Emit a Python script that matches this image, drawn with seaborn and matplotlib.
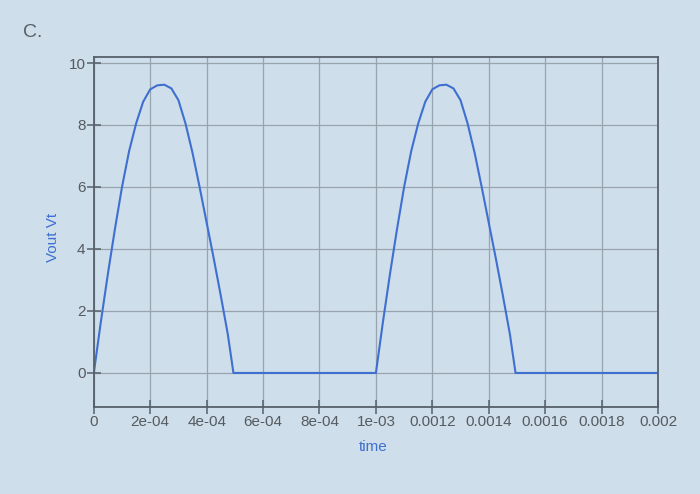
import pandas as pd
import matplotlib
matplotlib.use("Agg")
import matplotlib.pyplot as plt
import seaborn as sns

# half-wave rectified output
time = [0.0, 2.5e-5, 5.0e-5, 7.5e-5, 1.0e-4, 1.25e-4, 1.5e-4, 1.75e-4, 2.0e-4, 2.25e-4,
        2.5e-4, 2.75e-4, 3.0e-4, 3.25e-4, 3.5e-4, 3.75e-4, 4.0e-4, 4.25e-4, 4.5e-4, 4.75e-4,
        4.95e-4, 1.0e-3,
        1.025e-3, 1.05e-3, 1.075e-3, 1.1e-3, 1.125e-3, 1.15e-3, 1.175e-3, 1.2e-3, 1.225e-3,
        1.25e-3, 1.275e-3, 1.3e-3, 1.325e-3, 1.35e-3, 1.375e-3, 1.4e-3, 1.425e-3, 1.45e-3,
        1.475e-3, 1.495e-3, 2.0e-3]
vout = [0.0, 1.65, 3.2, 4.65, 6.0, 7.15, 8.05, 8.75, 9.15, 9.28,
        9.3, 9.18, 8.8, 8.05, 7.1, 6.0, 4.85, 3.7, 2.5, 1.25,
        0.0, 0.0,
        1.65, 3.2, 4.65, 6.0, 7.15, 8.05, 8.75, 9.15, 9.28,
        9.3, 9.18, 8.8, 8.05, 7.1, 6.0, 4.85, 3.7, 2.5, 1.25,
        0.0, 0.0]

xticks = [0, 2e-4, 4e-4, 6e-4, 8e-4, 1e-3, 1.2e-3, 1.4e-3, 1.6e-3, 1.8e-3, 2e-3]
xtick_labels = ["0", "2e-04", "4e-04", "6e-04", "8e-04", "1e-03",
                "0.0012", "0.0014", "0.0016", "0.0018", "0.002"]
yticks = [0, 2, 4, 6, 8, 10]

df = pd.DataFrame({"time": time, "Vout Vt": vout})

bg = "#cedeea"
sns.set_style("whitegrid")
plt.rcParams["font.family"] = ["Liberation Sans", "DejaVu Sans"]

fig = plt.figure(figsize=(7, 4.94), dpi=100, facecolor=bg)
ax = fig.add_axes([0.134, 0.176, 0.806, 0.709])
ax.set_facecolor(bg)

sns.lineplot(data=df, x="time", y="Vout Vt", ax=ax, color="#3f6fd0",
             linewidth=1.5, sort=False)

ax.set_xlim(0, 0.002)
ax.set_ylim(-1.1, 10.2)
ax.set_xticks(xticks)
ax.set_xticklabels(xtick_labels)
ax.set_yticks(yticks)

ax.grid(True, color="#98a5ae", linewidth=0.9)
for s in ax.spines.values():
    s.set_visible(True)
    s.set_color("#56606a")
    s.set_linewidth(1.3)

ax.tick_params(axis="both", bottom=True, left=True, direction="inout",
               length=10, width=1.1, color="#56606a", labelcolor="#555b60",
               labelsize=11, pad=1)

ax.set_xlabel("time", color="#3f6fd0", fontsize=11)
ax.set_ylabel("Vout Vt", color="#3f6fd0", fontsize=11)
ax.xaxis.set_label_coords(0.495, -0.095)
ax.yaxis.set_label_coords(-0.06, 0.485)

fig.text(0.033, 0.925, "C.", fontsize=14, color="#5a6066")

plt.savefig("out.png", dpi=100, facecolor=bg)
